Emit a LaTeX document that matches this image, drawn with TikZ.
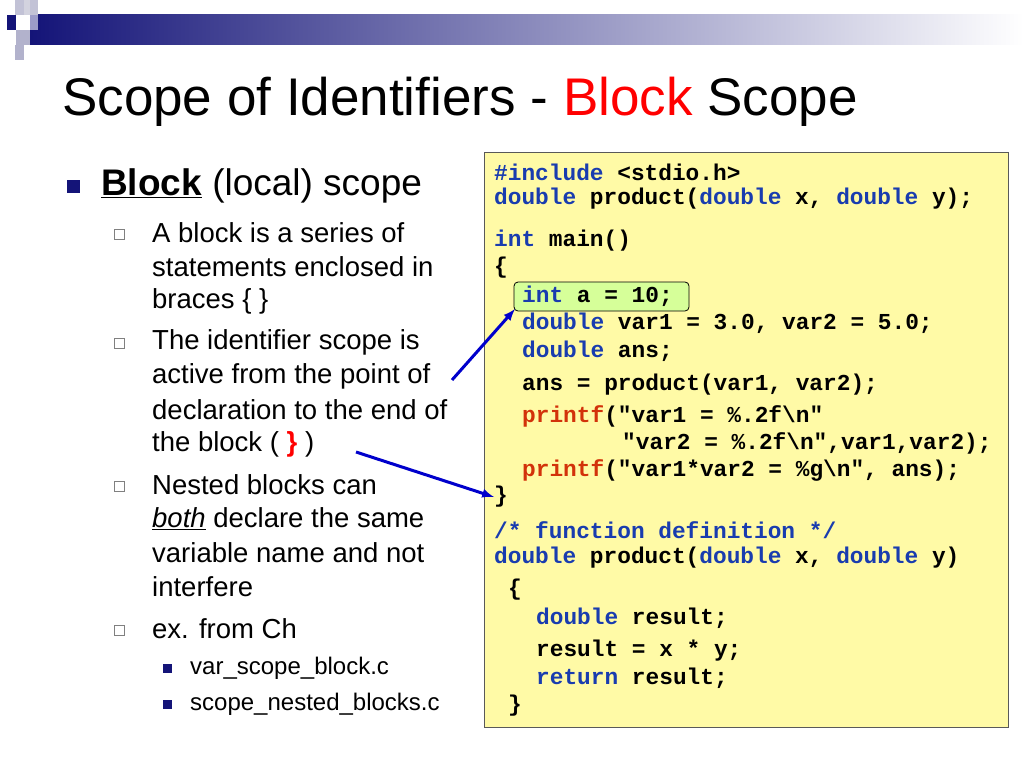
\documentclass[tikz,border=0pt]{standalone}
\usepackage{fontspec}
\setmainfont{Liberation Sans}
\newfontfamily\codefont{Liberation Mono}
\begin{document}
\begin{tikzpicture}[x=1pt,y=-1pt,
  code/.style={anchor=west,inner sep=0pt,font=\codefont\bfseries\fontsize{22.8}{24}\selectfont},
  txt/.style={anchor=west,inner sep=0pt,font=\fontsize{27.5}{29}\selectfont},
  arr/.style={draw=blue!80!black,line width=3pt,-latex}]
\definecolor{kw}{RGB}{25,60,175}
\definecolor{pf}{RGB}{210,50,10}
\definecolor{navy}{RGB}{20,20,120}
\useasboundingbox (0,0) rectangle (1024,768);
\fill[white] (0,0) rectangle (1024,768);
% header
\shade[left color=navy,right color=white] (30,15) rectangle (1024,45);
\fill[blue!20!gray!40] (15,0) rectangle (38,15);
\fill[blue!20!gray!50] (16,30) rectangle (30,45);
\fill[blue!30!gray!60] (30,15) rectangle (38,30);
\fill[navy] (7,15) rectangle (16,30);
\fill[blue!20!gray!50] (15,45) rectangle (24,60);
\fill[blue!15!gray!30] (24,0) rectangle (30,15);
\node[anchor=west,inner sep=0pt,font=\fontsize{53}{55}\selectfont] (title) at (62,102) {Scope of Identifiers - \textcolor{red}{Block} Scope};
% left bullets
\fill[navy] (67,180) rectangle (80,193);
\node[anchor=west,inner sep=0pt,font=\fontsize{37}{39}\selectfont] (b1) at (101,186) {\underline{\textbf{Block}} (local) scope};
\foreach \y in {233,342,485,629}{\draw[gray,line width=0.6pt] (114,\y-4) rectangle (124,\y+6);}
\node[txt] (t1) at (152,233) {A block is a series of};
\node[txt] at (152,267) {statements enclosed in};
\node[txt] at (152,301) {braces \{ \}};
\node[txt] at (152,342) {The identifier scope is};
\node[txt] (t2) at (152,376) {active from the point of};
\node[txt] at (152,410) {declaration to the end of};
\node[txt] (t3) at (152,444) {the block ( \textcolor{red}{\textbf{\}}} )};
\node[txt] at (152,485) {Nested blocks can};
\node[txt] at (152,519) {\underline{\textit{both}} declare the same};
\node[txt] at (152,553) {variable name and not};
\node[txt] at (152,587) {interfere};
\node[txt] at (152,629) {ex. from Ch};
\fill[navy] (163,664) rectangle (172,673);
\fill[navy] (163,700) rectangle (172,709);
\node[txt,font=\fontsize{24}{26}\selectfont] at (190,668) {var\_scope\_block.c};
\node[txt,font=\fontsize{24}{26}\selectfont] at (190,704) {scope\_nested\_blocks.c};
% code box
\draw[fill=yellow!35,draw=gray!70!black,line width=0.8pt] (484,152) rectangle (1008,727);
\draw[fill=green!40!yellow!40,draw=black,rounded corners=4pt,line width=0.8pt] (514,282) rectangle (689,311);
\node[code] at (494,172) {\textcolor{kw}{\#include} <stdio.h>};
\node[code] at (494,199) {\textcolor{kw}{double} product(\textcolor{kw}{double} x, \textcolor{kw}{double} y);};
\node[code] at (494,241) {\textcolor{kw}{int} main()};
\node[code] at (494,268) {\{};
\node[code] (inta) at (522,296) {\textcolor{kw}{int} a = 10;};
\node[code] at (522,323) {\textcolor{kw}{double} var1 = 3.0, var2 = 5.0;};
\node[code] at (522,351) {\textcolor{kw}{double} ans;};
\node[code] at (522,385) {ans = product(var1, var2);};
\node[code] at (522,416) {\textcolor{pf}{printf}("var1 = \%.2f\textbackslash n"};
\node[code] at (622,443) {"var2 = \%.2f\textbackslash n",var1,var2);};
\node[code] at (522,470) {\textcolor{pf}{printf}("var1*var2 = \%g\textbackslash n", ans);};
\node[code] (close) at (494,497) {\}};
\node[code] at (494,530) {\textcolor{kw}{/* function definition */}};
\node[code] at (494,558) {\textcolor{kw}{double} product(\textcolor{kw}{double} x, \textcolor{kw}{double} y)};
\node[code] at (508,590) {\{};
\node[code] at (536,618) {\textcolor{kw}{double} result;};
\node[code] at (536,651) {result = x * y;};
\node[code] at (536,678) {\textcolor{kw}{return} result;};
\node[code] at (508,706) {\}};
\coordinate (a1) at (452,380);
\coordinate (a2) at (356,452);
\draw[arr] (a1) -- (515,309);
\draw[arr] (a2) -- (close.west);
\end{tikzpicture}
\end{document}
